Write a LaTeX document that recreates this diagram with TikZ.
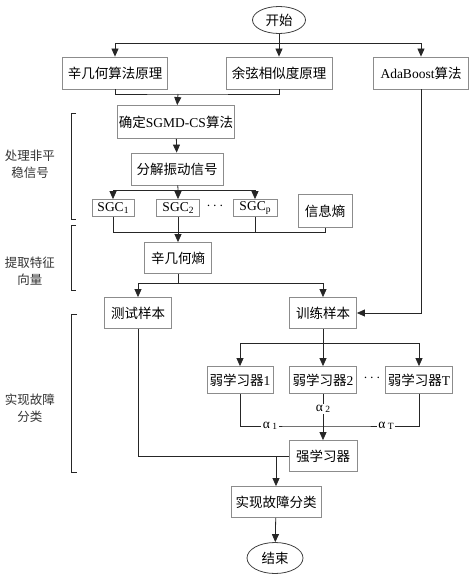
\documentclass[tikz,border=0pt]{standalone}
\usepackage{fontspec}
\setmainfont{Liberation Serif}
\newfontfamily\cjk{Noto Sans CJK SC}
\usetikzlibrary{shapes.geometric,arrows.meta}
\newcommand\zh[1]{{\cjk #1}}
\newcommand\sub[1]{\raisebox{-1.5pt}{\fontsize{9.5}{10}\selectfont #1}}
\begin{document}
\begin{tikzpicture}[x=1pt,y=-1pt,
  every node/.style={font=\fontsize{13.5}{15}\selectfont, inner sep=0pt},
  box/.style={draw=black!45, line width=0.8pt, rectangle, minimum height=32pt},
  oval/.style={draw=black!75, line width=0.8pt, ellipse},
  arr/.style={-{Triangle[width=7pt,length=8pt]}},
  conn/.style={draw=black!85, line width=0.8pt},
  lbl/.style={font=\fontsize{12.5}{17}\selectfont, align=center, text=black!80},
  alab/.style={fill=white, inner sep=1.5pt}
]
\useasboundingbox (0,0) rectangle (474,580);
% nodes
\node[oval, minimum width=53pt, minimum height=27pt] (start) at (279,20) {\zh{开始}};
\node[box, minimum width=105pt] (b1) at (115,73) {\zh{辛几何算法原理}};
\node[box, minimum width=106pt] (b2) at (279,73) {\zh{余弦相似度原理}};
\node[box, minimum width=95pt] (b3) at (421,73) {AdaBoost\zh{算法}};
\node[box, minimum width=117pt, minimum height=33pt] (sgmd) at (176,122) {\zh{确定}SGMD-CS\zh{算法}};
\node[box, minimum width=92pt] (fenjie) at (177,169) {\zh{分解振动信号}};
\node[box, minimum width=42pt, minimum height=17pt] (sgc1) at (113,208) {SGC\sub{1}};
\node[box, minimum width=43pt, minimum height=17pt] (sgc2) at (178,208) {SGC\sub{2}};
\node (dots1) at (215,206) {$\cdots$};
\node[box, minimum width=44pt, minimum height=17pt] (sgcp) at (255,208) {SGC\sub{p}};
\node[box, minimum width=54pt, minimum height=33pt] (xinxi) at (325,211) {\zh{信息熵}};
\node[box, minimum width=67pt, minimum height=31pt] (xinjihe) at (178,258) {\zh{辛几何熵}};
\node[box, minimum width=67pt, minimum height=31pt] (ceshi) at (138,313) {\zh{测试样本}};
\node[box, minimum width=67pt, minimum height=31pt] (xunlian) at (323,313) {\zh{训练样本}};
\node[box, minimum width=66pt, minimum height=27pt] (ruo1) at (240,380) {\zh{弱学习器}1};
\node[box, minimum width=67pt, minimum height=27pt] (ruo2) at (323,380) {\zh{弱学习器}2};
\node (dots2) at (372,378) {$\cdots$};
\node[box, minimum width=67pt, minimum height=27pt] (ruoT) at (419,380) {\zh{弱学习器}T};
\node[box, minimum width=68pt, minimum height=31pt] (qiang) at (323,456) {\zh{强学习器}};
\node[box, minimum width=90pt, minimum height=31pt] (shixian) at (276,502) {\zh{实现故障分类}};
\node[oval, minimum width=56pt, minimum height=31pt] (end) at (275,558) {\zh{结束}};
% coordinates
\coordinate (j0) at (279,43);
\coordinate (m1) at (178,94);
\coordinate (m2) at (178,190);
\coordinate (m3) at (178,232);
\coordinate (m4) at (178,283);
\coordinate (m5) at (323,343);
\coordinate (m6) at (323,426);
\coordinate (m7) at (276,456);
% connectors
\draw[conn] (start) -- (j0);
\draw[conn,arr] (j0) -| (b1);
\draw[conn,arr] (j0) -- (b2);
\draw[conn,arr] (j0) -| (b3);
\draw[conn] (b1) |- (m1) -| (b2);
\draw[conn,arr] (m1) -- (sgmd);
\draw[conn,arr] (sgmd) -- (fenjie);
\draw[conn] (fenjie) -- (m2);
\draw[conn,arr] (m2) -| (sgc1);
\draw[conn,arr] (m2) -- (sgc2);
\draw[conn,arr] (m2) -| (sgcp);
\draw[conn] (sgc1) |- (m3);
\draw[conn] (sgcp) |- (m3);
\draw[conn] (xinxi) |- (m3);
\draw[conn] (sgc2) -- (m3);
\draw[conn,arr] (m3) -- (xinjihe);
\draw[conn] (xinjihe) -- (m4);
\draw[conn,arr] (m4) -| (ceshi);
\draw[conn,arr] (m4) -| (xunlian);
\draw[conn,arr] (b3) |- (xunlian);
\draw[conn] (xunlian) -- (m5);
\draw[conn,arr] (m5) -| (ruo1);
\draw[conn,arr] (m5) -- (ruo2);
\draw[conn,arr] (m5) -| (ruoT);
\draw[conn] (ruo1) |- (m6) -| (ruoT);
\draw[conn,arr] (ruo2) -- (qiang);
\draw[conn] (ceshi) |- (qiang);
\draw[conn,arr] (m7) -- (shixian);
\draw[conn,arr] (shixian) -- (end);
% alpha labels
\node[alab] (a1) at (270,426) {α\,\sub{1}};
\node[alab] (a2) at (323,409) {α\,\sub{2}};
\node[alab] (aT) at (386,426) {α\,\sub{T}};
% brackets
\draw[conn] (76,113) -- (71,113) -- (71,219) -- (76,219);
\draw[conn] (76,225) -- (71,225) -- (71,290) -- (76,290);
\draw[conn] (77,314) -- (71,314) -- (71,472) -- (77,472);
\node[lbl] (l1) at (30,164) {\zh{处理非平}\\\zh{稳信号}};
\node[lbl] (l2) at (30,271) {\zh{提取特征}\\\zh{向量}};
\node[lbl] (l3) at (30,408) {\zh{实现故障}\\\zh{分类}};
\end{tikzpicture}
\end{document}
